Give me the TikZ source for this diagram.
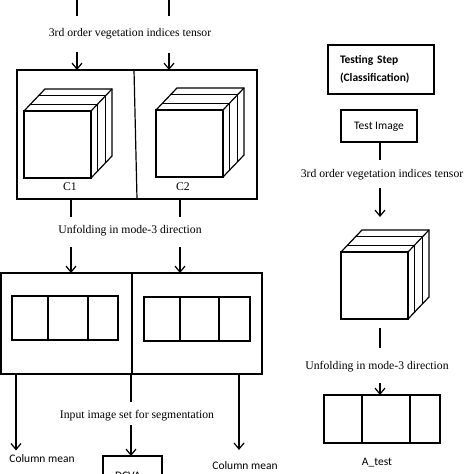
\documentclass[tikz,border=0pt]{standalone}
\usepackage{fontspec}
\setmainfont{Liberation Serif}
\newfontfamily\calib{Carlito}
\usetikzlibrary{arrows.meta,positioning}

\begin{document}
\begin{tikzpicture}[x=1pt,y=-1pt,line width=1.2pt,
	txt/.style={inner sep=0pt,font=\fontsize{11.7}{14}\selectfont},
	sans/.style={inner sep=0pt,text depth=0pt,font=\calib\fontsize{11.5}{14}\selectfont},
	box/.style={draw,anchor=north west,outer sep=0pt},
	arr/.style={-{Straight Barb[length=6pt,width=10pt]}},
	tensorcube/.pic={
		\draw (0,0) rectangle (67,67);
		\draw (0,0) -- (21,-22) -- (88,-22) -- (88,45) -- (67,67);
		\draw (67,0) -- (88,-22);
		\foreach \f in {0.3,0.7}
			\draw ({21*\f},{-22*\f}) -- ++(67,0) -- ++(0,67);
		\coordinate (-top) at (54,-22);
		\coordinate (-bot) at (33,67);
	}
]
	\clip (0,0) rectangle (474,474);
	\fill[white] (0,0) rectangle (474,474);

	\node[txt] (vt1) at (130,34) {3rd order vegetation indices tensor};
	\node[box,minimum width=240pt,minimum height=129pt] (tens) at (17,70) {};
	\draw (134,70) -- (137,199);
	\pic (cb1) at (24,111) {tensorcube};
	\pic (cb2) at (156,110) {tensorcube};
	\node[txt] (c1) at (70,187) {C1};
	\node[txt] (c2) at (183,187) {C2};
	\node[txt] (uf1) at (130,231) {Unfolding in mode-3 direction};
	\node[box,minimum width=261pt,minimum height=101pt] (unf) at (1,273) {};
	\draw (132,273) -- (132,374);
	\draw (12,296) rectangle (118,340);
	\foreach \x in {48,88} \draw (\x,296) -- (\x,340);
	\draw (144,297) rectangle (250,341);
	\foreach \x in {180,219} \draw (\x,297) -- (\x,341);
	\node[txt] (inp) at (137,416) {Input image set for segmentation};
	\node[sans] (cm1) at (42,459) {Column mean};
	\node[sans] (cm2) at (245,466) {Column mean};
	\node[box,sans,inner xsep=12pt,inner ysep=13pt,text width=35pt,align=left,minimum height=40pt] (dcva) at (103,456) {DCVA};

	\node[box,font=\calib\bfseries\fontsize{11.5}{18}\selectfont,inner xsep=12pt,text width=82pt,align=left,minimum height=49pt] (step) at (328,45) {Testing Step\\(Classification)};
	\node[draw,sans,minimum width=76pt,minimum height=32pt] (test) at (379,126) {Test Image};
	\node[txt] (vt2) at (382,175) {3rd order vegetation indices tensor};
	\pic (cb3) at (341,252) {tensorcube};
	\node[txt] (uf2) at (377,367) {Unfolding in mode-3 direction};
	\node[box,minimum width=116pt,minimum height=48pt] (atest) at (324,395) {};
	\foreach \x in {362,410} \draw (\x,395) -- (\x,443);
	\node[sans] (albl) at (377,462) {A\_test};

	\coordinate (xa) at (77,0);
	\coordinate (xb) at (169,0);
	\coordinate (xc) at (71,0);
	\coordinate (xd) at (180,0);
	\coordinate (xe) at (16,0);
	\coordinate (xf) at (239,0);
	\coordinate (xg) at (131,0);
	\coordinate (xr) at (380,0);

	\draw[shorten >=12.5pt] (xa) -- (xa |- vt1.north);
	\draw[shorten >=12.5pt] (xb) -- (xb |- vt1.north);
	\draw[arr,shorten <=12pt] (xa |- vt1.south) -- (xa |- tens.north);
	\draw[arr,shorten <=13pt] (xb |- vt1.south) -- (xb |- tens.north);
	\draw[shorten >=8.5pt] (xc |- tens.south) -- (xc |- uf1.north);
	\draw[shorten >=8.5pt] (xd |- tens.south) -- (xd |- uf1.north);
	\draw[arr,shorten <=10.5pt] (xc |- uf1.south) -- (xc |- unf.north);
	\draw[arr,shorten <=10.5pt] (xd |- uf1.south) -- (xd |- unf.north);
	\draw[arr,shorten >=4pt] (xe |- unf.south) -- (xe |- cm1.north);
	\draw[arr,shorten >=11.5pt] (xf |- unf.south) -- (xf |- cm2.north);
	\draw[shorten >=8pt] (xg |- unf.south) -- (xg |- inp.north);
	\draw[arr,shorten <=3pt] (xg |- inp.south) -- (xg |- dcva.north);

	\draw[shorten >=9.5pt] (xr |- test.south) -- (xr |- vt2.north);
	\draw[arr,shorten <=7pt,shorten >=13pt] (xr |- vt2.south) -- (xr |- cb3-top);
	\draw[shorten <=9pt,shorten >=13.5pt] (xr |- cb3-bot) -- (xr |- uf2.north);
	\draw[arr,shorten <=10.5pt] (xr |- uf2.south) -- (xr |- atest.north);
\end{tikzpicture}
\end{document}
